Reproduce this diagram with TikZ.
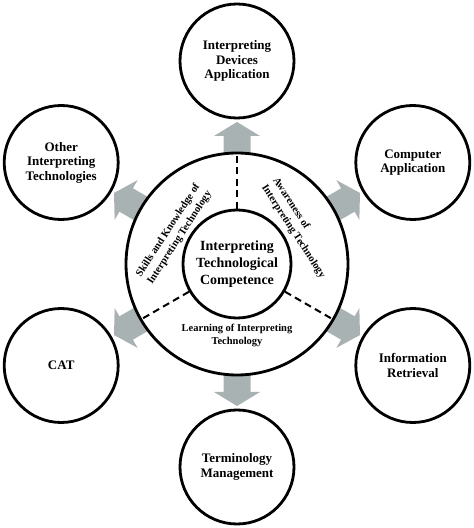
\documentclass[tikz,border=0pt]{standalone}
\usepackage{fontspec}
\setmainfont{Liberation Serif}
\definecolor{arrowgray}{RGB}{168,178,178}
\tikzset{
  outercirc/.style={circle, draw=black, line width=2.8pt, fill=white, minimum size=114pt, inner sep=0pt, align=center, font=\fontsize{13}{14.5}\selectfont\bfseries},
  bigring/.style={circle, draw=black, line width=2.8pt, fill=white, minimum size=222pt, inner sep=0pt},
  corecirc/.style={circle, draw=black, line width=2.8pt, fill=white, minimum size=108pt, inner sep=0pt, align=center, font=\fontsize{14}{17}\selectfont\bfseries},
  ringtext/.style={inner sep=0pt, align=center, font=\fontsize{10.5}{13.5}\selectfont\bfseries},
  dashline/.style={line width=2pt, dash pattern=on 7pt off 4.5pt},
  blockarrow/.style={fill=arrowgray}
}
\begin{document}
\begin{tikzpicture}[x=1pt,y=1pt]
\useasboundingbox (0,0) rectangle (474,528);
\coordinate (C) at (237,264);
% block arrows
\foreach \a in {30,90,...,330} {
  \begin{scope}[shift={(C)}, rotate=\a]
    \fill[blockarrow] (100,-13.5) -- (128,-13.5) -- (128,-23) -- (142,0) -- (128,23) -- (128,13.5) -- (100,13.5) -- cycle;
  \end{scope}
}
% rings
\node[bigring] (ring) at (C) {};
\node[corecirc] (core) at (C) {Interpreting\\Technological\\Competence};
\draw[dashline] (core.90) -- (ring.90);
\draw[dashline] (core.210) -- (ring.210);
\draw[dashline] (core.330) -- (ring.330);
% ring texts
\node[ringtext, rotate=57, align=left] (skills) at ([shift={(-63,30)}]C) {Skills and Knowledge of\\Interpreting Technology};
\node[ringtext, rotate=-57, align=left] (aware) at ([shift={(62,36)}]C) {Awareness of\\Interpreting Technology};
\node[ringtext] (learn) at ([shift={(0,-71.5)}]C) {Learning of Interpreting\\Technology};
% outer circles
\node[outercirc] (dev) at ([shift={(90:203)}]C) {Interpreting\\Devices\\Application};
\node[outercirc] (comp) at ([shift={(30:203)}]C) {Computer\\Application};
\node[outercirc] (info) at ([shift={(-30:203)}]C) {Information\\Retrieval};
\node[outercirc] (term) at ([shift={(-90:203)}]C) {Terminology\\Management};
\node[outercirc] (cat) at ([shift={(210:203)}]C) {CAT};
\node[outercirc] (other) at ([shift={(150:203)}]C) {Other\\Interpreting\\Technologies};
\end{tikzpicture}
\end{document}
